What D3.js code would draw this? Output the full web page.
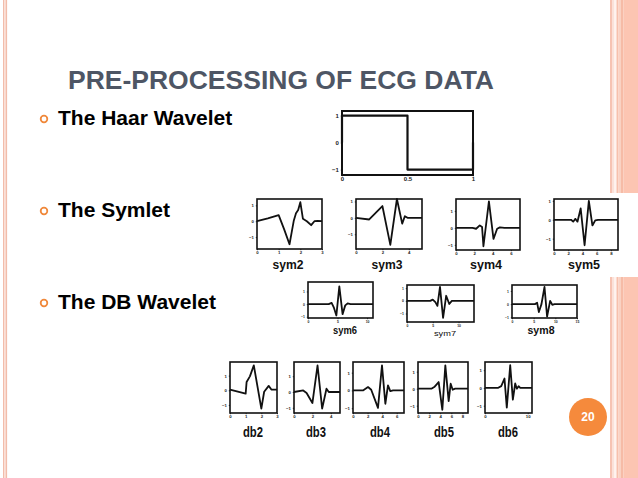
<!DOCTYPE html>
<html>
<head>
<meta charset="utf-8">
<script src="https://cdn.jsdelivr.net/npm/d3@7/dist/d3.min.js"></script>
<style>
body { margin: 0; background: #fff; }
svg { display: block; }
text { font-family: "Liberation Sans", Arial, sans-serif; }
</style>
</head>
<body>
<svg id="slide" width="638" height="478"></svg>
<script>
// slide text
const titleText = "PRE-PROCESSING OF ECG DATA";
const bulletLabels = ["The Haar Wavelet", "The Symlet", "The DB Wavelet"];
const pageNumber = "20";

// wavelet names, in drawing order
const waveletNames = ["haar", "sym2", "sym3", "sym4", "sym5", "sym6", "sym7", "sym8", "db2", "db3", "db4", "db5", "db6"];

// psi(t) points, [t, value]
const haarPts = [[0, 0], [0, 1], [0.5, 1], [0.5, -1], [1, -1], [1, 0]];
const sym2Pts = [[0, 0], [0.5, 0.18], [1.0, 0.38], [1.25, -0.5], [1.5, -1.45], [1.6, -0.7], [1.7, 0.05], [1.8, 0.5], [1.9, 0.7], [2.0, 1.2], [2.12, 0.15], [2.3, 0.0], [2.5, -0.25], [2.65, 0.0], [2.8, 0.02], [3, 0]];
const sym3Pts = [[0, 0], [1.0, -0.1], [2.0, 0.72], [2.6, -1.65], [3.1, 1.15], [3.5, -0.35], [3.7, 0.1], [3.9, 0.0], [5, 0]];
const sym4Pts = [[0, 0], [1.8, 0], [2.2, -0.05], [2.6, 0.15], [2.85, 0.05], [3.0, -1.08], [3.6, 1.56], [4.1, -0.65], [4.5, -0.05], [4.8, 0.03], [5.3, 0], [7, 0]];
const sym5Pts = [[0, 0], [2.4, 0], [2.7, -0.1], [3.0, 0.05], [3.3, -0.1], [3.75, 0.6], [4.3, -1.35], [4.9, 1.0], [5.4, -0.3], [5.8, -0.03], [6.2, 0], [9, 0]];
const sym6Pts = [[0, 0], [3.5, 0], [4.0, 0.1], [4.4, -0.3], [4.8, -0.9], [5.3, 1.4], [5.85, -0.8], [6.3, -0.1], [6.7, 0.05], [7.2, 0], [11, 0]];
const sym7Pts = [[0, 0], [4.5, 0], [5.0, 0.1], [5.5, -0.1], [5.9, -0.4], [6.4, 1.1], [7.0, -1.35], [7.6, 0.4], [8.2, -0.25], [8.7, 0], [13, 0]];
const sym8Pts = [[0, 0], [5.3, 0], [5.8, 0.1], [6.2, -0.6], [6.8, 0.0], [7.5, 1.3], [8.1, -0.95], [8.8, 0.25], [9.3, -0.05], [9.8, 0], [15, 0]];
const db2Pts = [[0, 0.05], [1.0, -0.23], [1.06, 0.57], [1.27, 0.95], [1.52, 1.7], [2.0, -1.25], [2.18, -0.1], [2.47, 0.3], [2.64, 0.05], [3, 0.05]];
const db3Pts = [[0, 0], [1.0, 0.1], [1.37, -0.06], [2.0, -0.7], [2.56, 1.68], [3.06, -1.05], [3.53, 0.21], [3.78, 0], [5, 0]];
const db4Pts = [[0, 0], [1.37, 0], [2.06, 0.19], [2.5, 0.04], [3.43, -0.98], [3.98, 1.41], [4.44, -0.75], [4.8, 0.28], [5.12, -0.04], [5.5, 0], [7, 0]];
const db5Pts = [[0, 0], [2.4, 0], [3.0, 0.12], [3.72, 0.39], [4.38, -1.24], [4.92, 1.37], [5.52, -0.73], [5.88, 0.29], [6.24, -0.06], [6.7, 0], [9, 0]];
const db6Pts = [[0, 0], [3.0, 0], [3.8, 0.1], [4.56, 0.53], [5.1, -1.11], [5.9, 1.28], [6.52, -0.66], [7.07, 0.25], [7.46, -0.04], [7.86, 0.1], [8.25, 0], [11, 0]];
const waveletPts = [haarPts, sym2Pts, sym3Pts, sym4Pts, sym5Pts, sym6Pts, sym7Pts, sym8Pts, db2Pts, db3Pts, db4Pts, db5Pts, db6Pts];

// axis ranges and tick labels of each small plot
const xRanges = [[0, 1], [0, 3], [0, 5], [0, 7], [0, 9], [0, 11], [0, 13], [0, 15], [0, 3], [0, 5], [0, 7], [0, 9], [0, 11]];
const yRanges = [[-1.2, 1.17], [-1.75, 1.4], [-1.9, 1.15], [-1.3, 1.7], [-1.6, 1.1], [-1.1, 1.75], [-1.67, 1.25], [-1.05, 1.45], [-1.55, 1.93], [-1.33, 1.9], [-1.27, 1.6], [-1.43, 1.57], [-1.41, 1.46]];
const xTickValues = [[0, 0.5, 1], [0, 1, 2, 3], [0, 2, 4], [0, 2, 4, 6], [0, 2, 4, 6, 8], [0, 5, 10], [0, 5, 10], [0, 5, 10, 15], [0, 1, 2, 3], [0, 2, 4], [0, 2, 4, 6], [0, 2, 4, 6, 8], [0, 10]];
const yTickValues = [-1, 0, 1];

// layout: plot frames [x0, y0, x1, y1] and caption [cx, baseline, size, width, weight]
const frames = [
	[342, 111, 473, 175],
	[257, 199, 322, 249], [356, 199, 422, 249], [456, 199, 520, 250], [554, 199, 618, 250],
	[308, 282, 373, 318], [407, 285, 474, 322], [512, 285, 577, 318],
	[230, 362, 277, 413], [294, 362, 340, 413], [353, 362, 404, 413], [418, 362, 468, 413], [485, 362, 532, 413]
];
const captions = [
	null,
	[288, 269, 13, 31, "bold"], [387, 269, 13, 31, "bold"], [486, 269, 13, 32, "bold"], [584, 269, 13, 32, "bold"],
	[345, 334, 10, 24, "bold"], [445, 336, 7.5, 22, "normal"], [541, 334, 10, 27, "bold"],
	[253, 437, 15, 20, "bold"], [316, 437, 15, 20, "bold"], [380, 437, 15, 20, "bold"], [444, 437, 15, 20, "bold"], [508, 437, 15, 20, "bold"]
];

const svg = d3.select("#slide");

// slide borders
const borderL = [[3, 1.3, "#f2bcaa"], [4.3, 1.4, "#fbdcd2"], [5.7, 1.4, "#f2bcaa"]];
const borderR = [[610, 2.5, "#f6c3b3"], [612.5, 2, "#fbe2da"], [614.5, 2, "#fff3ef"], [616.5, 2, "#f7c0ac"], [618.5, 2, "#fad2c4"], [620.5, 3, "#f6bba6"], [623.5, 14.5, "#fcc5b2"]];
svg.append("g").selectAll("rect").data(borderL.concat(borderR)).enter().append("rect")
	.attr("x", d => d[0]).attr("y", 0).attr("width", d => d[1]).attr("height", 478).attr("fill", d => d[2]);
// the symlet picture is pasted over the right border
svg.append("rect").attr("x", 540).attr("y", 193).attr("width", 98).attr("height", 84).attr("fill", "#fff");

// title
svg.append("text").attr("x", 68).attr("y", 89).attr("font-size", 25).attr("font-weight", "bold")
	.attr("fill", "#4e5665").attr("textLength", 426).attr("lengthAdjust", "spacingAndGlyphs").text(titleText);

// bullets
const bulletY = [125, 217, 309];
const bl = svg.append("g").selectAll("g").data(bulletLabels).enter().append("g")
	.attr("transform", (d, i) => `translate(0,${bulletY[i]})`);
bl.append("circle").attr("cx", 44).attr("cy", -6).attr("r", 3.3).attr("fill", "none").attr("stroke", "#f0883a").attr("stroke-width", 1.8);
bl.append("text").attr("x", 58).attr("font-size", 21).attr("font-weight", "bold").attr("fill", "#000").text(d => d);

// the small wavelet plots
waveletNames.forEach((name, i) => {
	const f = frames[i];
	const x = d3.scaleLinear().domain(xRanges[i]).range([f[0], f[2]]);
	const y = d3.scaleLinear().domain(yRanges[i]).range([f[3], f[1]]);
	const g = svg.append("g").attr("class", "plot " + name);
	const small = i == 0 ? 6 : (i >= 5 && i <= 7 ? 3.4 : 4.3);
	// tick labels only, like the scanned figures
	const xa = g.append("g").attr("transform", `translate(0,${f[3]})`)
		.call(d3.axisBottom(x).tickValues(xTickValues[i]).tickSize(1.2).tickPadding(1).tickFormat(d3.format("")));
	const ya = g.append("g").attr("transform", `translate(${f[0]},0)`)
		.call(d3.axisLeft(y).tickValues(yTickValues).tickSize(1.2).tickPadding(2).tickFormat(d => d < 0 ? "\u22121" : d));
	[xa, ya].forEach(a => {
		a.select(".domain").remove();
		a.selectAll("line").attr("stroke", "#333");
		a.selectAll("text").attr("font-size", small).attr("font-weight", "bold").attr("fill", "#222")
			.style("font-family", "'Liberation Sans', Arial, sans-serif");
	});
	g.append("rect").attr("x", f[0]).attr("y", f[1]).attr("width", f[2] - f[0]).attr("height", f[3] - f[1])
		.attr("fill", "none").attr("stroke", "#111").attr("stroke-width", i == 0 ? 2 : 1.6);
	const line = d3.line().x(d => x(d[0])).y(d => y(d[1]));
	g.append("path").attr("d", line(waveletPts[i])).attr("fill", "none").attr("stroke", "#111")
		.attr("stroke-width", i == 0 ? 2.2 : 1.8).attr("stroke-linejoin", "round");
	const c = captions[i];
	if(c)
		g.append("text").attr("x", c[0]).attr("y", c[1]).attr("text-anchor", "middle").attr("font-size", c[2])
			.attr("font-weight", c[4]).attr("fill", "#111").attr("textLength", c[3]).attr("lengthAdjust", "spacingAndGlyphs").text(name);
});

// page number
svg.append("circle").attr("cx", 588).attr("cy", 417).attr("r", 19).attr("fill", "#f58a3c");
svg.append("text").attr("x", 588).attr("y", 421).attr("text-anchor", "middle").attr("font-size", 12)
	.attr("font-weight", "bold").attr("fill", "#fff").text(pageNumber);
</script>
</body>
</html>
